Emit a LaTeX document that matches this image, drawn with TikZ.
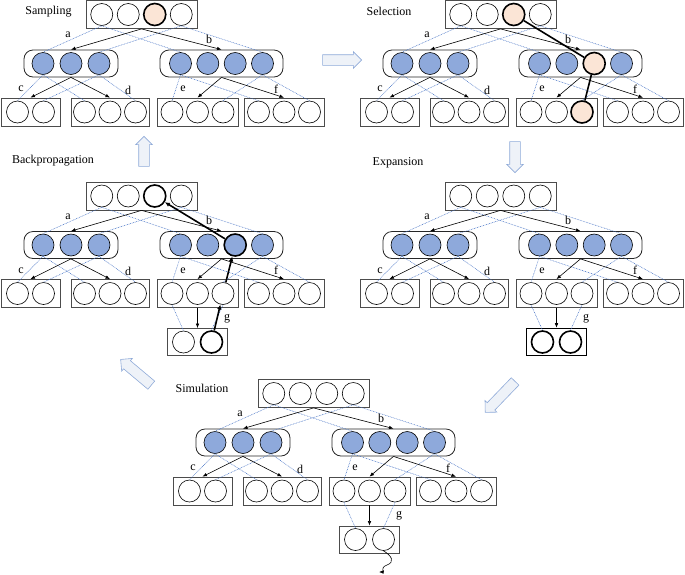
\documentclass[tikz,border=0pt]{standalone}
\usepackage{fontspec}
\setmainfont{Liberation Serif}
\usepackage{xcolor}
\usepackage{tikz}
\usetikzlibrary{arrows.meta, shapes.arrows}
\definecolor{nodeblue}{HTML}{8EA9DB}
\definecolor{peach}{HTML}{FBE5D6}
\definecolor{coneblue}{HTML}{4472C4}
\definecolor{arrowfill}{HTML}{EEF2F8}
\definecolor{arrowedge}{HTML}{8FAAD8}
\tikzstyle{box} = [rectangle, draw=black!70, line width=0.8pt, minimum height=28pt, inner sep=0pt]
\tikzstyle{rbox} = [rectangle, rounded corners=9pt, draw=black!85, line width=0.8pt, minimum height=27pt, inner sep=0pt]
\tikzstyle{nd} = [circle, draw=black, line width=0.6pt, minimum size=22pt, inner sep=0pt, fill=white]
\tikzstyle{ndin} = [nd, fill=nodeblue]
\tikzstyle{ndsel} = [nd, fill=peach, line width=1.6pt]
\tikzstyle{ndbold} = [nd, line width=1.6pt]
\tikzstyle{cone} = [draw=coneblue, line width=0.5pt, dash pattern=on 0.8pt off 0.8pt]
\tikzstyle{movearrow} = [draw, line width=0.6pt, -{Latex[length=4.5pt, width=3.6pt]}]
\tikzstyle{hot} = [draw, line width=1.6pt]
\tikzstyle{hotarrow} = [draw, line width=1.6pt, -{Latex[length=5pt, width=4.5pt]}]
\tikzstyle{lbl} = [font=\fontsize{12}{13}\selectfont, inner sep=0pt]
\tikzstyle{phase} = [font=\fontsize{12}{14}\selectfont, inner sep=0pt]
\tikzstyle{bigarrow} = [single arrow, draw=arrowedge, fill=arrowfill, line width=0.6pt, inner sep=0pt, inner ysep=5pt, single arrow head extend=3pt]
\tikzset{panelhook/.style={#1/.try}}

% one search tree, #1 = prefix, (#2,#3) = offset
\newcommand{\mctstree}[3]{%
  \begin{scope}[shift={(#2,#3)}]
    % states
    \node [box, minimum width=111pt] (#1-root) at (141.5,14.5) {};
    \foreach \i/\x in {1/101.75, 2/128.25, 3/154.75, 4/181.25}
      \node [nd, panelhook/.expanded={#1-r\i}] (#1-r\i) at (\x,14.5) {};
    \node [rbox, minimum width=94pt] (#1-L) at (71,63.5) {};
    \foreach \i/\x in {1/43, 2/71, 3/99}
      \node [ndin, panelhook/.expanded={#1-L\i}] (#1-L\i) at (\x,63.5) {};
    \node [rbox, minimum width=123pt] (#1-R) at (221.5,63.5) {};
    \foreach \i/\x in {1/180.5, 2/207.8, 3/235.2, 4/262.5}
      \node [ndin, panelhook/.expanded={#1-R\i}] (#1-R\i) at (\x,63.5) {};
    \node [box, minimum width=59pt] (#1-c) at (30.5,112) {};
    \foreach \i/\x in {1/17.5, 2/43.5}
      \node [nd, panelhook/.expanded={#1-c\i}] (#1-c\i) at (\x,112) {};
    \node [box, minimum width=78pt] (#1-d) at (110,112) {};
    \foreach \i/\x in {1/84.5, 2/110, 3/135.5}
      \node [nd, panelhook/.expanded={#1-d\i}] (#1-d\i) at (\x,112) {};
    \node [box, minimum width=81pt] (#1-e) at (197.5,112) {};
    \foreach \i/\x in {1/172, 2/197.5, 3/223}
      \node [nd, panelhook/.expanded={#1-e\i}] (#1-e\i) at (\x,112) {};
    \node [box, minimum width=80pt] (#1-f) at (284,112) {};
    \foreach \i/\x in {1/258.5, 2/284, 3/309.5}
      \node [nd, panelhook/.expanded={#1-f\i}] (#1-f\i) at (\x,112) {};
    % cones
    \foreach \a/\b in {r1/L1, r1/R1, r4/L3, r4/R4, L1/c1, L1/d1, L3/c2, L3/d3, R1/e1, R1/f1, R4/e3, R4/f3}
      \path [cone] (#1-\a.south) -- (#1-\b.north);
    % moves
    \foreach \a/\b in {root/L, root/R, L/c, L/d, R/e, R/f}
      \path [movearrow] (#1-\a.south) -- (#1-\b.north);
    \foreach \t/\x/\y in {a/68/35, b/209/39, c/21/89, d/128/90, e/183/89, f/276/89}
      \node [lbl] (#1-lbl\t) at (\x,\y) {\t};
  \end{scope}}

% new leaf g under e
\newcommand{\leafbox}[3]{%
  \begin{scope}[shift={(#2,#3)}]
    \node [box, minimum width=60pt, minimum height=27pt, panelhook/.expanded={#1-g}] (#1-g) at (197.5,160.5) {};
    \foreach \i/\x in {1/183.5, 2/211.5}
      \node [nd, panelhook/.expanded={#1-g\i}] (#1-g\i) at (\x,160.5) {};
    \path [cone] (#1-e1.south) -- (#1-g1.north);
    \path [cone] (#1-e3.south) -- (#1-g2.north);
    \path [movearrow] (#1-e.south) -- (#1-g.north);
    \node [lbl] (#1-lblg) at (227,137) {g};
  \end{scope}}

\tikzset{
  samp-r3/.style={ndsel},
  sel-r3/.style={ndsel}, sel-R3/.style={ndsel}, sel-e3/.style={ndsel},
  back-r3/.style={ndbold}, back-R3/.style={line width=1.6pt}, back-g2/.style={ndbold},
  exp-g/.style={draw=black, line width=1.6pt}, exp-g1/.style={ndbold}, exp-g2/.style={ndbold}
}

\begin{document}
\begin{tikzpicture}[x=1pt, y=-1pt]
    \useasboundingbox (0,0) rectangle (685,574);

    % Sampling
    \mctstree{samp}{0}{0}
    \node [phase] (samp-title) at (48.5,12) {Sampling};

    % Selection
    \mctstree{sel}{359}{0}
    \node [phase] (sel-title) at (389,11) {Selection};
    \path [hot] (sel-r3) -- (sel-R3);
    \path [hot] (sel-R3) -- (sel-e3);

    % Backpropagation
    \mctstree{back}{0}{181.5}
    \leafbox{back}{0}{181.5}
    \node [phase] (back-title) at (53,161) {Backpropagation};
    \path [hotarrow] (back-g2) -- (back-e3);
    \path [hotarrow] (back-e3) -- (back-R3);
    \path [hotarrow] (back-R3) -- (back-r3);

    % Expansion
    \mctstree{exp}{359}{181.5}
    \leafbox{exp}{359}{181.5}
    \node [phase] (exp-title) at (398,163) {Expansion};

    % Simulation
    \mctstree{sim}{172}{379}
    \leafbox{sim}{172}{379}
    \node [phase] (sim-title) at (202,388) {Simulation};
    \coordinate (sim-out) at (379,572);
    \path [movearrow] (sim-g2.south) .. controls (392,556) and (395,562) .. (387,565)
        .. controls (379,568) and (385,572) .. (sim-out);

    % cycle arrows
    \node [bigarrow, minimum height=39pt] (flow1) at (339.5,60) {};
    \node [bigarrow, minimum height=31pt, rotate=-90] (flow2) at (515,154.5) {};
    \node [bigarrow, minimum height=43pt, rotate=-134] (flow3) at (502,395) {};
    \node [bigarrow, minimum height=40pt, rotate=140] (flow4) at (138,374) {};
    \node [bigarrow, minimum height=30pt, rotate=90] (flow5) at (144,154) {};
\end{tikzpicture}
\end{document}
